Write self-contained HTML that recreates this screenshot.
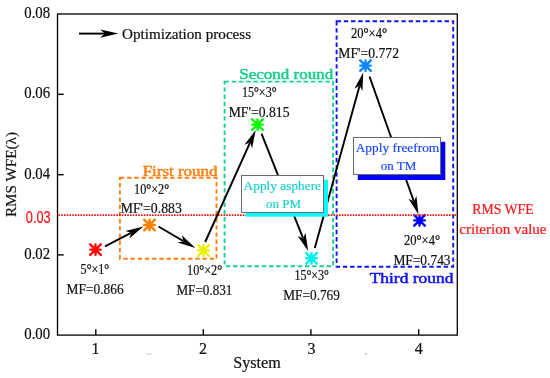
<!DOCTYPE html>
<html><head><meta charset="utf-8">
<style>
html,body{margin:0;padding:0;background:#fff;}
body{width:550px;height:378px;overflow:hidden;}
svg{display:block;}
text{font-family:"Liberation Serif",serif;font-size:14px;fill:currentColor;stroke:currentColor;stroke-width:.2px;color:#111;}
.sans{font-family:"Liberation Sans",sans-serif;}
.b{font-weight:normal;stroke-width:.52px;}
.dg{stroke-width:.35px;}
</style></head>
<body>
<svg width="550" height="378" viewBox="0 0 550 378">
<defs>
<g id="star">
<path d="M-5.2 0H5.2M0 -5.2V5.2M-5.3 -5.3L5.3 5.3M-5.3 5.3L5.3 -5.3" stroke-width="2.4" stroke-linecap="round" fill="none"/>
</g>
<g id="ah"><path d="M0 0L-18 -4.2L-13.6 0L-18 4.2Z"/></g>
</defs>

<!-- dashed round boxes -->
<rect x="119.9" y="177.8" width="96.6" height="81" fill="none" stroke="#FF8014" stroke-width="1.9" stroke-dasharray="4.4 2.8"/>
<rect x="224.6" y="81.6" width="108.5" height="184.6" fill="none" stroke="#19CF8C" stroke-width="1.9" stroke-dasharray="4.4 2.8"/>
<rect x="336.6" y="21.2" width="116.6" height="245.5" fill="none" stroke="#1414F0" stroke-width="1.9" stroke-dasharray="4.4 2.8"/>

<!-- markers -->
<use href="#star" x="95.5" y="249.6" stroke="#FF0A0A"/>
<use href="#star" x="149.5" y="225" stroke="#FF8000"/>
<use href="#star" x="203.5" y="250.5" stroke="#EAF000"/>
<use href="#star" x="257.5" y="124.6" stroke="#00FF00"/>
<use href="#star" x="311.5" y="258.3" stroke="#00F0F0"/>
<use href="#star" x="365.5" y="65.6" stroke="#0A84FF"/>
<use href="#star" x="419.5" y="220.4" stroke="#0000FF"/>

<!-- criterion red dotted line -->
<line x1="58.5" y1="215.1" x2="456.5" y2="215.1" stroke="#FF1010" stroke-width="1.6" stroke-dasharray="1.6 1.15"/>

<!-- arrows -->
<g stroke="#000" stroke-width="1.9" fill="none">
<line x1="105" y1="246.4" x2="131.0" y2="232.9"/>
<line x1="158.5" y1="226.5" x2="183.2" y2="241.0"/>
<line x1="205.2" y1="242" x2="249.9" y2="142.8"/>
<line x1="261.5" y1="133.6" x2="303.0" y2="238.1"/>
<line x1="314.8" y1="248.1" x2="359.5" y2="86.0"/>
<line x1="369.5" y1="76.5" x2="413.8" y2="201.2"/>
</g>
<g fill="#000">
<use href="#ah" transform="translate(143.4 226.5) rotate(-27.4)"/>
<use href="#ah" transform="translate(195.3 248.1) rotate(30.4)"/>
<use href="#ah" transform="translate(255.7 130) rotate(-65.7)"/>
<use href="#ah" transform="translate(308.2 251.1) rotate(68.3)"/>
<use href="#ah" transform="translate(363.2 72.5) rotate(-74.6)"/>
<use href="#ah" transform="translate(418.5 214.4) rotate(70.4)"/>
</g>

<!-- text boxes -->
<rect x="245.7" y="179.7" width="82.3" height="37" fill="#00FFFF"/>
<rect x="241.5" y="175.5" width="82" height="37" fill="#fff" stroke="#6b6b6b" stroke-width="1"/>
<rect x="357.8" y="141.8" width="87.5" height="38.2" fill="#0000FF"/>
<rect x="353.5" y="137.5" width="87" height="37" fill="#fff" stroke="#6b6b6b" stroke-width="1"/>

<!-- axes -->
<rect x="57.5" y="14" width="399.8" height="321.1" fill="none" stroke="#000" stroke-width="1.3"/>
<g stroke="#000" stroke-width="1.4">
<line x1="57.6" y1="94.3" x2="63.7" y2="94.3"/>
<line x1="57.6" y1="174.7" x2="63.7" y2="174.7"/>
<line x1="57.6" y1="254.9" x2="63.7" y2="254.9"/>
<line x1="95.8" y1="335" x2="95.8" y2="329.2"/>
<line x1="203.3" y1="335" x2="203.3" y2="329.2"/>
<line x1="310.9" y1="335" x2="310.9" y2="329.2"/>
<line x1="418.7" y1="335" x2="418.7" y2="329.2"/>
</g>
<rect x="145.9" y="353.2" width="6" height="1.6" fill="#ddd"/>
<rect x="365" y="353" width="1.6" height="1.6" fill="#aaa"/>
<rect x="257.8" y="352.8" width="1.2" height="1.2" fill="#e6e6e6"/>

<!-- legend arrow -->
<line x1="79" y1="33.6" x2="106" y2="33.6" stroke="#000" stroke-width="1.9"/>
<use href="#ah" transform="translate(118.3 33.6)"/>
<!-- TEXTS -->
<text x="24.3" y="17.9" style="font-size:16.2px" textLength="25.8" lengthAdjust="spacingAndGlyphs">0.08</text>
<text x="24.3" y="98.2" style="font-size:16.2px" textLength="25.8" lengthAdjust="spacingAndGlyphs">0.06</text>
<text x="24.3" y="178.5" style="font-size:16.2px" textLength="25.8" lengthAdjust="spacingAndGlyphs">0.04</text>
<text x="24.3" y="258.9" style="font-size:16.2px" textLength="25.8" lengthAdjust="spacingAndGlyphs">0.02</text>
<text x="24.3" y="339.2" style="font-size:16.2px" textLength="25.8" lengthAdjust="spacingAndGlyphs">0.00</text>
<text class="sans" x="25.8" y="222.7" style="font-size:16.5px;color:#FF1010" textLength="24.8" lengthAdjust="spacingAndGlyphs">0.03</text>
<text x="16.2" y="217.0" transform="rotate(-90 16.2 217.0)" style="font-size:15.5px" textLength="85.0" lengthAdjust="spacingAndGlyphs">RMS WFE(λ)</text>
<text x="91.5" y="354.3" style="font-size:16px">1</text>
<text x="199.0" y="354.3" style="font-size:16px">2</text>
<text x="307.5" y="354.3" style="font-size:16px">3</text>
<text x="414.8" y="354.3" style="font-size:16px">4</text>
<text x="233.2" y="368.4" style="font-size:15.8px" textLength="47.5" lengthAdjust="spacingAndGlyphs">System</text>
<text x="122.1" y="38.5" style="font-size:13.8px" textLength="129.0" lengthAdjust="spacingAndGlyphs">Optimization process</text>
<text class="b" x="142.7" y="175.6" style="font-size:15.2px;color:#FF8014" textLength="74.8" lengthAdjust="spacingAndGlyphs">First round</text>
<text class="b" x="239.3" y="78.9" style="font-size:15.2px;color:#19CF8C" textLength="93.9" lengthAdjust="spacingAndGlyphs">Second round</text>
<text class="b" x="369.7" y="282.6" style="font-size:15.2px;color:#1010F0" textLength="83.7" lengthAdjust="spacingAndGlyphs">Third round</text>
<text x="80.6" y="273.9" style="font-size:13.8px" textLength="28.5" lengthAdjust="spacingAndGlyphs">5<tspan class="dg">°</tspan>×1<tspan class="dg">°</tspan></text>
<text x="66.6" y="294.2" style="font-size:14.2px" textLength="57.0" lengthAdjust="spacingAndGlyphs">MF=0.866</text>
<text x="134.1" y="193.6" style="font-size:13.8px" textLength="35.0" lengthAdjust="spacingAndGlyphs">10<tspan class="dg">°</tspan>×2<tspan class="dg">°</tspan></text>
<text x="120.7" y="213.4" style="font-size:14.2px" textLength="61.1" lengthAdjust="spacingAndGlyphs">MF'=0.883</text>
<text x="187.1" y="275.2" style="font-size:13.8px" textLength="35.0" lengthAdjust="spacingAndGlyphs">10<tspan class="dg">°</tspan>×2<tspan class="dg">°</tspan></text>
<text x="176.4" y="295.0" style="font-size:14.2px" textLength="56.0" lengthAdjust="spacingAndGlyphs">MF=0.831</text>
<text x="242.0" y="96.6" style="font-size:13.8px" textLength="34.5" lengthAdjust="spacingAndGlyphs">15<tspan class="dg">°</tspan>×3<tspan class="dg">°</tspan></text>
<text x="228.7" y="117.2" style="font-size:14.2px" textLength="60.8" lengthAdjust="spacingAndGlyphs">MF'=0.815</text>
<text x="294.4" y="279.6" style="font-size:13.8px" textLength="34.5" lengthAdjust="spacingAndGlyphs">15<tspan class="dg">°</tspan>×3<tspan class="dg">°</tspan></text>
<text x="283.3" y="299.8" style="font-size:14.2px" textLength="56.6" lengthAdjust="spacingAndGlyphs">MF=0.769</text>
<text x="351.0" y="37.6" style="font-size:13.8px" textLength="36.0" lengthAdjust="spacingAndGlyphs">20<tspan class="dg">°</tspan>×4<tspan class="dg">°</tspan></text>
<text x="338.3" y="57.8" style="font-size:14.2px" textLength="60.7" lengthAdjust="spacingAndGlyphs">MF'=0.772</text>
<text x="404.0" y="245.1" style="font-size:13.8px" textLength="36.0" lengthAdjust="spacingAndGlyphs">20<tspan class="dg">°</tspan>×4<tspan class="dg">°</tspan></text>
<text x="393.4" y="264.9" style="font-size:14.2px" textLength="57.2" lengthAdjust="spacingAndGlyphs">MF=0.743</text>
<text x="243.6" y="190.0" style="font-size:13.4px;color:#1CD0D0" textLength="77.4" lengthAdjust="spacingAndGlyphs">Apply asphere</text>
<text x="266.0" y="208.0" style="font-size:13.4px;color:#1CD0D0" textLength="35.0" lengthAdjust="spacingAndGlyphs">on PM</text>
<text x="355.7" y="152.3" style="font-size:13.4px;color:#1F48FF" textLength="83.6" lengthAdjust="spacingAndGlyphs">Apply freefrom</text>
<text x="380.8" y="169.7" style="font-size:13.4px;color:#1F48FF" textLength="35.6" lengthAdjust="spacingAndGlyphs">on TM</text>
<text x="472.3" y="213.7" style="font-size:14px;color:#FF1A1A" textLength="61.3" lengthAdjust="spacingAndGlyphs">RMS WFE</text>
<text x="459.3" y="233.9" style="font-size:14px;color:#FF1A1A" textLength="87.2" lengthAdjust="spacingAndGlyphs">criterion value</text>
<!-- /TEXTS -->
</svg>
</body></html>
